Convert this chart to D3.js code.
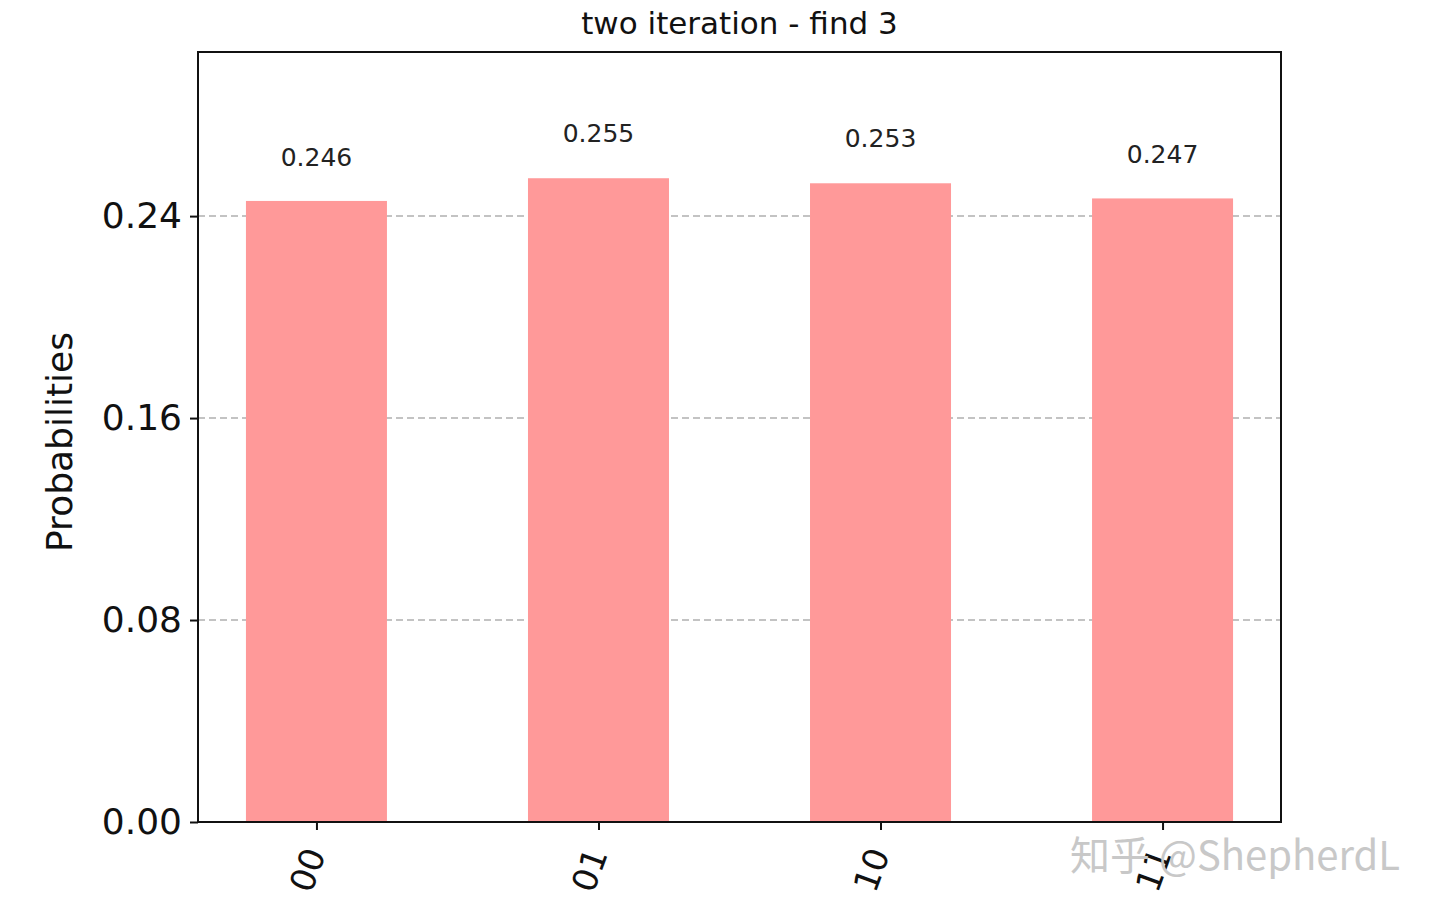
<!DOCTYPE html>
<html>
<head>
<meta charset="utf-8">
<script src="https://cdn.jsdelivr.net/npm/d3@7"></script>
<style>
  body { margin: 0; background: #fff; }
  text { font-family: "DejaVu Sans", sans-serif; }
</style>
</head>
<body>
<svg id="chart" width="1439" height="921"></svg>
<script>
const categories = ['00', '01', '10', '11'];
const values = [0.246, 0.255, 0.253, 0.247];
const yTicks = [0, 0.08, 0.16, 0.24];

const svg = d3.select('#chart');
const plotL = 198, plotR = 1281, plotT = 52, plotB = 822;

const x = d3.scalePoint().domain(categories).range([plotL, plotR]).padding(0.42);
const y = d3.scaleLinear().domain([0, 0.305]).range([plotB, plotT]);
const barW = 141;

// grid
svg.append('g').selectAll('line').data(yTicks.slice(1)).enter().append('line')
  .attr('x1', plotL).attr('x2', plotR)
  .attr('y1', d => y(d)).attr('y2', d => y(d))
  .attr('stroke', '#b0b0b0').attr('stroke-width', 1.5).attr('stroke-dasharray', '7,4');

// bars
svg.append('g').selectAll('rect').data(values).enter().append('rect')
  .attr('x', (d, i) => x(categories[i]) - barW / 2)
  .attr('y', d => y(d))
  .attr('width', barW)
  .attr('height', d => plotB - y(d))
  .attr('fill', '#ff9999');

// value labels
svg.append('g').selectAll('text').data(values).enter().append('text')
  .attr('x', (d, i) => x(categories[i]))
  .attr('y', d => y(d * 1.05) - 4)
  .attr('text-anchor', 'middle')
  .style('font-size', '25px')
  .attr('fill', '#222')
  .text(d => d.toFixed(3));

// frame
svg.append('rect').attr('x', plotL).attr('y', plotT)
  .attr('width', plotR - plotL).attr('height', plotB - plotT)
  .attr('fill', 'none').attr('stroke', '#111').attr('stroke-width', 2);

// y axis
const yAxis = svg.append('g').attr('transform', `translate(${plotL},0)`)
  .call(d3.axisLeft(y).tickValues(yTicks).tickFormat(d3.format('.2f')).tickSize(8).tickPadding(8));
yAxis.select('.domain').remove();
yAxis.selectAll('line').attr('stroke', '#111').attr('stroke-width', 2);
yAxis.selectAll('text').style('font-size', '36px').attr('fill', '#111');

// x axis
const xAxis = svg.append('g').attr('transform', `translate(0,${plotB})`)
  .call(d3.axisBottom(x).tickSize(8).tickPadding(10));
xAxis.select('.domain').remove();
xAxis.selectAll('line').attr('stroke', '#111').attr('stroke-width', 2);
xAxis.selectAll('text')
  .style('font-size', '34px').attr('fill', '#111')
  .attr('text-anchor', 'end')
  .attr('dy', '0.35em')
  .attr('transform', 'translate(0,22) rotate(-70)')
  .attr('y', 0).attr('x', -6);

// title
svg.append('text').attr('x', (plotL + plotR) / 2).attr('y', 34)
  .attr('text-anchor', 'middle').style('font-size', '31px').attr('fill', '#111')
  .text('two iteration - find 3');

// y label
svg.append('text').attr('transform', `translate(72,${(plotT + plotB) / 2 + 5}) rotate(-90)`)
  .attr('text-anchor', 'middle').style('font-size', '36px').attr('fill', '#111')
  .text('Probabilities');

// watermark
svg.append('text').attr('x', 1400).attr('y', 870).attr('text-anchor', 'end')
  .style('font-family', '"Noto Sans CJK SC", sans-serif')
  .style('font-size', '40px').attr('fill', '#c8c8c8')
  .text('知乎 @ShepherdL');
</script>
</body>
</html>
